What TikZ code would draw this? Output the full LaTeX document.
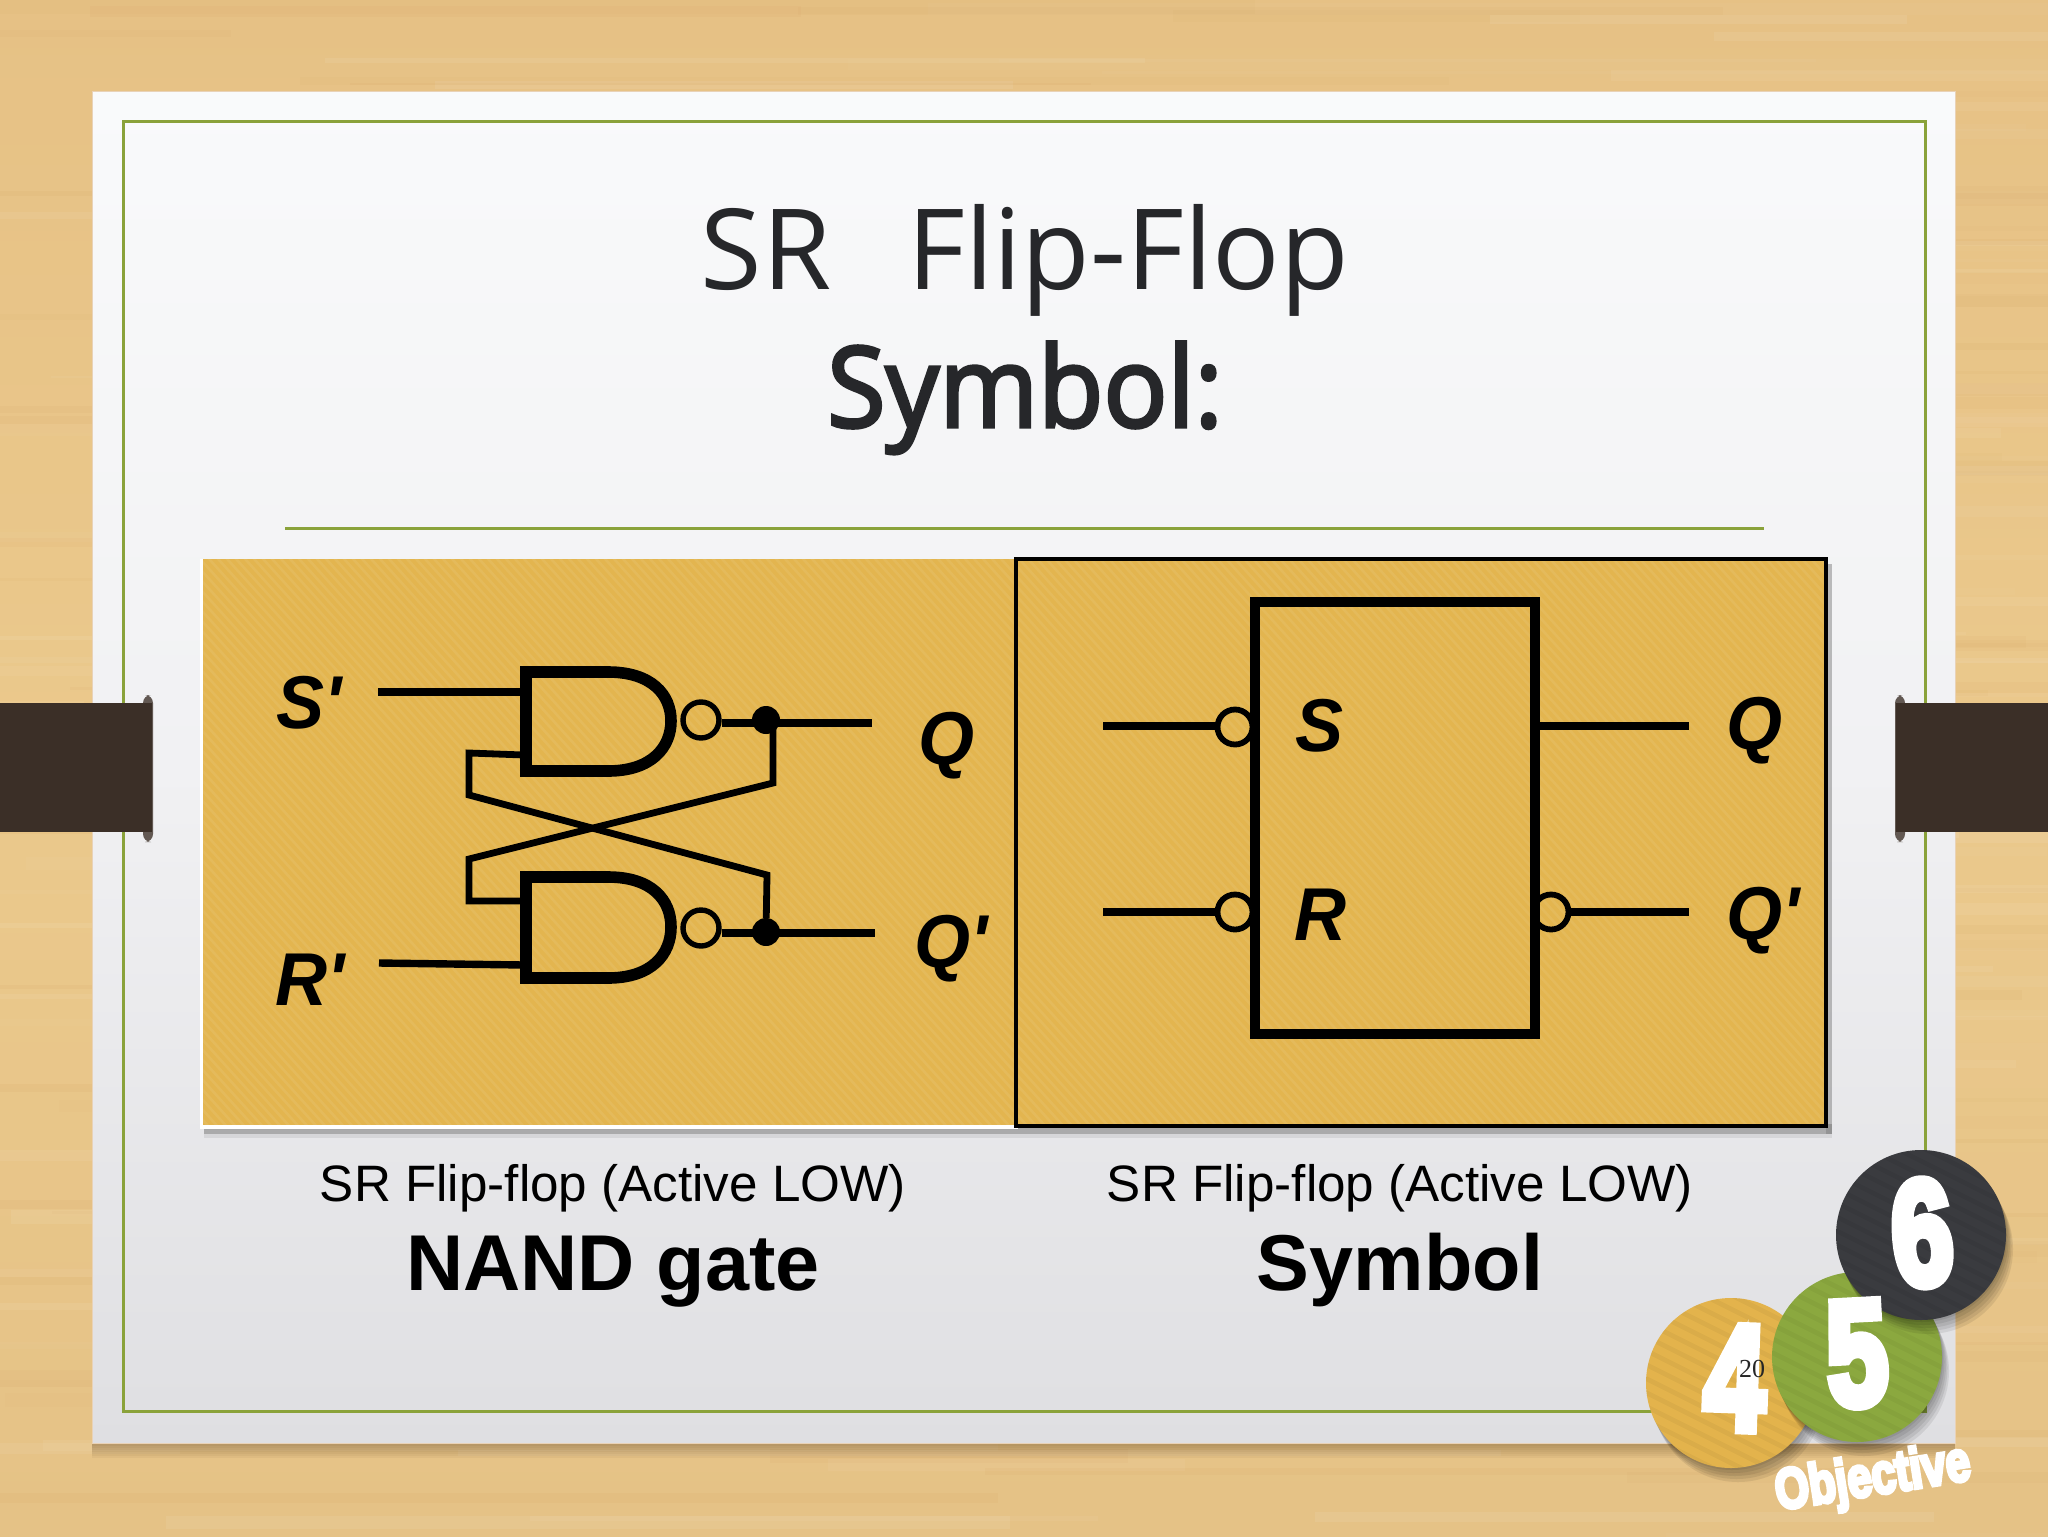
\documentclass[tikz,border=0pt]{standalone}
\usepackage{fontspec}
\usepackage{graphicx}
\setmainfont{Liberation Sans}
\newfontfamily\sigfont{Liberation Sans}
\newfontfamily\titlefont{Open Sans}
\newfontfamily\titlebold[FakeBold=3]{Open Sans}
\newfontfamily\heavyfont[FakeBold=7]{Liberation Sans Bold}
\newfontfamily\pagefont{Liberation Serif}
\usetikzlibrary{calc}
\definecolor{woodA}{HTML}{E6C185}
\definecolor{woodB}{HTML}{EBC98C}
\definecolor{woodC}{HTML}{E5C286}
\definecolor{frameGreen}{HTML}{8AA23A}
\definecolor{panelGold}{HTML}{E3B54F}
\definecolor{tabDark}{HTML}{3B2F27}
\definecolor{coinGold}{HTML}{E3B34C}
\definecolor{coinGreen}{HTML}{8BA83F}
\definecolor{coinDark}{HTML}{3A3B3F}
\definecolor{titleInk}{HTML}{26272A}
\definecolor{cardTop}{HTML}{F9FAFB}
\definecolor{cardMid}{HTML}{F1F1F3}
\definecolor{cardBot}{HTML}{DFDFE2}
\definecolor{woodDark}{HTML}{C98F4A}
\tikzset{
  wire/.style={line width=3.7pt,line cap=butt,line join=miter,black},
  thinwire/.style={line width=3.4pt,line join=miter,black},
  gatebody/.style={line width=5.8pt,line join=miter,black},
  bubble/.style={circle,draw=black,line width=2.7pt,minimum size=18pt,inner sep=0pt,outer sep=0pt},
  smallbubble/.style={circle,draw=black,line width=2.9pt,minimum size=17.5pt,inner sep=0pt,outer sep=0pt},
  junction/.style={circle,fill=black,minimum size=14pt,inner sep=0pt,outer sep=0pt},
  siglabel/.style={font=\sigfont\fontsize{36}{36}\selectfont\bfseries\itshape,inner sep=0pt,text=black},
  capsmall/.style={font=\fontsize{25.6}{25.6}\selectfont,anchor=base,inner sep=0pt,text=black},
  capbig/.style={font=\fontsize{39.6}{39.6}\selectfont\bfseries,anchor=base,inner sep=0pt,text=black},
  digit/.style={font=\heavyfont\fontsize{72}{72}\selectfont,text=white,inner sep=0pt},
  greenrule/.style={draw=frameGreen,line width=1.5pt}
}
\newcommand{\siglab}[1]{\scalebox{1}[1.04]{#1}}
\newcommand{\digitbox}[1]{\scalebox{.76}[1.03]{#1}}
\begin{document}
\begin{tikzpicture}[x=0.5pt,y=-0.5pt]
\useasboundingbox (0,0) rectangle (2048,1536);
% wood background
\shade[top color=woodA,bottom color=woodC,middle color=woodB] (0,0) rectangle (2048,1536);
\pgfmathsetseed{7}
\foreach \i in {1,...,260}{
  \pgfmathsetmacro{\yy}{rnd*1536}
  \pgfmathsetmacro{\xx}{rnd*2048-300}
  \pgfmathsetmacro{\ww}{300+rnd*1200}
  \pgfmathsetmacro{\hh}{2+rnd*12}
  \pgfmathsetmacro{\oo}{0.02+rnd*0.06}
  \pgfmathparse{rnd>0.5?1:0}
  \ifnum\pgfmathresult=1
    \fill[white,opacity=\oo] (\xx,\yy) rectangle ++(\ww,\hh);
  \else
    \fill[woodDark,opacity=\oo] (\xx,\yy) rectangle ++(\ww,\hh);
  \fi
}
% card shadow
\foreach \d in {1,3,...,15}{
  \fill[woodDark!50!black,opacity=0.06] (92,100) rectangle (1955,1443+\d);
}
% card
\shade[top color=cardTop,bottom color=cardBot,middle color=cardMid] (92,92) rectangle (1955,1443);
\draw[woodDark!40!white,line width=0.5pt] (92,92) rectangle (1955,1443);
% frame
\draw[greenrule] (123,121) rectangle (1925,1411);
% title
\node[font=\titlefont\fontsize{56}{56}\selectfont,text=titleInk,anchor=base,inner sep=0pt] (title1) at (1025,289) {SR\hspace{38pt}Flip-Flop};
\node[font=\titlebold\fontsize{56}{56}\selectfont,text=titleInk,anchor=base,inner sep=0pt] (title2) at (1025,427) {\scalebox{.95}[1]{Symbol:}};
\draw[greenrule] (285,528) -- (1764,528);
% panel shadow
\fill[black!55,opacity=.55] (204,1124) rectangle (1832,1134);
\fill[black!30,opacity=.3] (204,1130) rectangle (1832,1138);
\fill[black!50,opacity=.5] (1826,564) rectangle (1832,1134);
% panels
\fill[white] (200,559) rectangle (1018,1129);
\fill[panelGold] (203,559) rectangle (1016,1125);
\fill[panelGold] (1016,560) rectangle (1826,1126);
\begin{scope}
  \clip (203,559) rectangle (1826,1125);
  \foreach \k in {-600,-591,...,1900}{
    \draw[white,opacity=.07,line width=1.3pt] (\k,540) -- ++(560,620);
  }
\end{scope}
\draw[black,line width=1.7pt] (1016,559) rectangle (1826,1126);
% ---- NAND circuit ----
\draw[gatebody] (526,672) -- (608,672) .. controls (652,672) and (671,695) .. (671,721)
  .. controls (671,747) and (652,771) .. (608,771) -- (526,771) -- cycle;
\draw[gatebody] (526,877) -- (608,877) .. controls (652,877) and (671,900) .. (671,927)
  .. controls (671,954) and (652,978) .. (608,978) -- (526,978) -- cycle;
\node[bubble] (bub1) at (701,720) {};
\node[bubble] (bub2) at (701,928) {};
\node[junction] (dot1) at (766,720) {};
\node[junction] (dot2) at (766,932) {};
\coordinate (sin) at (378,692); \coordinate (sg) at (524,692);
\coordinate (rin) at (379,963); \coordinate (rg) at (524,965);
\coordinate (qout) at (872,723); \coordinate (qbout) at (875,933);
\coordinate (qst) at (722,723); \coordinate (qbst) at (722,933);
\coordinate (fb1a) at (773,723); \coordinate (fb1b) at (773,783); \coordinate (fb1c) at (469,859);
\coordinate (fb1d) at (469,901); \coordinate (g2in) at (524,901);
\coordinate (fb2a) at (524,755); \coordinate (fb2b) at (469,753); \coordinate (fb2c) at (469,795);
\coordinate (fb2d) at (767,875);
\draw[wire] (sin) -- (sg);
\draw[wire] (rin) -- (rg);
\draw[wire] (qst) -- (qout);
\draw[wire] (qbst) -- (qbout);
\draw[thinwire] (fb1a) -- (fb1b) -- (fb1c) -- (fb1d) -- (g2in);
\draw[thinwire] (fb2a) -- (fb2b) -- (fb2c) -- (fb2d) -- (dot2);
\node[siglabel] (lS) at (309,703) {\siglab{S'}};
\node[siglabel] (lR) at (310,980) {\siglab{R'}};
\node[siglabel] (lQ) at (946,746) {\siglab{Q}};
\node[siglabel] (lQb) at (951,949) {\siglab{Q'}};
% ---- symbol ----
\node[draw=black,line width=4.8pt,minimum width=140pt,minimum height=216pt,inner sep=0pt,outer sep=0pt] (ffbox) at (1395,818) {};
\node[smallbubble] (bS) at (1235,727) {};
\node[smallbubble] (bR) at (1235,912) {};
\node[smallbubble] (bQ) at (1551,912) {};
\coordinate (inS) at (1103,726); \coordinate (inR) at (1103,912);
\coordinate (outQ) at (1689,726); \coordinate (outQb) at (1689,912);
\draw[wire] (inS) -- (bS.west |- inS);
\draw[wire] (inR) -- (bR.west);
\draw[wire] (ffbox.east |- outQ) -- (outQ);
\draw[wire] (bQ.east) -- (outQb);
\node[siglabel] (sS) at (1319,726) {\siglab{S}};
\node[siglabel] (sR) at (1320,915) {\siglab{R}};
\node[siglabel] (sQ) at (1754,731) {\siglab{Q}};
\node[siglabel] (sQb) at (1763,921) {\siglab{Q'}};
% captions
\node[capsmall] (c1) at (613,1201) {SR Flip-flop (Active LOW)};
\node[capbig] (c2) at (613,1290) {NAND gate};
\node[capsmall] (c3) at (1400,1201) {SR Flip-flop (Active LOW)};
\node[capbig] (c4) at (1400,1290) {Symbol};
% tabs
\fill[tabDark!80!white,rounded corners=4pt] (143,695) rectangle (153,842);
\fill[tabDark] (0,703) rectangle (152,832);
\fill[tabDark!80!white,rounded corners=4pt] (1895,695) rectangle (1905,842);
\fill[tabDark] (1896,703) rectangle (2048,832);
% coins
\foreach \cx/\cy/\cc in {1731/1383/coinGold,1857/1357/coinGreen,1921/1235/coinDark}{
  \foreach \s in {14,11,8,5,2}{
    \fill[black,opacity=.08] (\cx+\s*.5,\cy+\s) circle[radius=85];
  }
  \fill[\cc] (\cx,\cy) circle[radius=85];
  \begin{scope}
    \clip (\cx,\cy) circle[radius=85];
    \foreach \k in {-130,-116,...,130}{
      \draw[black,opacity=.035,line width=2.4pt] (\cx-100,\cy+\k-50) -- (\cx+100,\cy+\k+50);
    }
  \end{scope}
}
\node[digit,rotate=-2] (d4) at (1735,1378) {\digitbox{4}};
\node[digit,rotate=3] (d5) at (1857,1354) {\digitbox{5}};
\node[digit,rotate=4] (d6) at (1922,1233) {\digitbox{6}};
\node[font=\pagefont\fontsize{13}{13}\selectfont,text=black!85,inner sep=0pt] (pg) at (1752,1369) {20};
\node[font=\heavyfont\fontsize{28}{28}\selectfont,text=white,rotate=9,inner sep=0pt] (obj) at (1873,1480) {\scalebox{.78}[1.02]{Objective}};
\end{tikzpicture}
\end{document}
